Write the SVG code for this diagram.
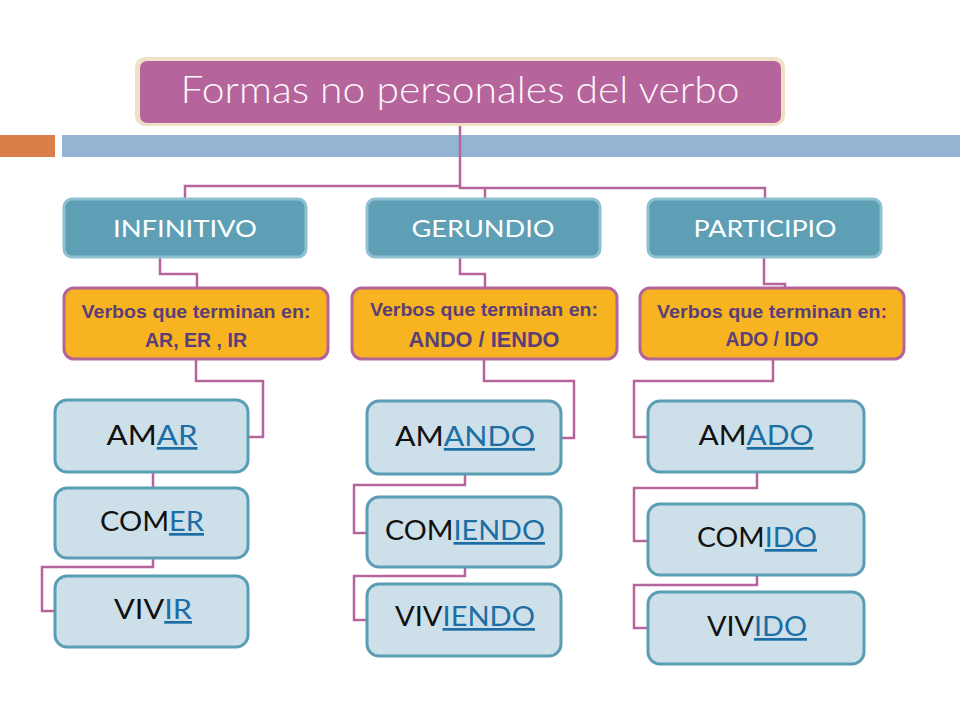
<svg xmlns="http://www.w3.org/2000/svg" width="960" height="720" viewBox="0 0 960 720">
<style>
.conn{fill:none;stroke:#b5649c;stroke-width:2.5}
.head rect{fill:#5e9fb5;stroke:#8fc1d1;stroke-width:3}
.head text{fill:#ffffff;font-family:"Lato","Open Sans",sans-serif;font-size:24px;font-weight:400;text-anchor:middle}
.cat rect{fill:#f8b420;stroke:#b5649c;stroke-width:3}
.cat text{fill:#5a3e78;font-family:"Liberation Sans",Arial,sans-serif;font-weight:bold;text-anchor:middle}
.word rect{fill:#cde0ea;stroke:#5b9eb4;stroke-width:3}
.word text{fill:#111111;font-family:"Lato","Open Sans",sans-serif;font-size:27px;font-weight:400;text-anchor:middle}
.suf{fill:#1c6ea4;text-decoration:underline}
</style>
<rect width="960" height="720" fill="#ffffff"/>
<rect x="0" y="135" width="55" height="22" fill="#d9804a"/>
<rect x="62" y="135" width="898" height="22" fill="#94b4d4"/>
<g id="connectors">
<path class="conn" d="M460,124 V186 M185,199 V186 H460 V188 H765 V199 M485,188 V199"/>
<path class="conn" d="M160,257 V274 H197 V287"/>
<path class="conn" d="M460,257 V274 H485 V287"/>
<path class="conn" d="M764,257 V284 H785 V287"/>
<path class="conn" d="M196,360 V381 H263 V437 H249"/>
<path class="conn" d="M153,473 V487"/>
<path class="conn" d="M153,558 V567 H42 V611 H55"/>
<path class="conn" d="M484,360 V381 H574 V438 H562"/>
<path class="conn" d="M465,475 V485 H354 V533 H367"/>
<path class="conn" d="M465,567 V576 H354 V620 H367"/>
<path class="conn" d="M773,360 V381 H634 V437 H647"/>
<path class="conn" d="M757,473 V488 H634 V541 H647"/>
<path class="conn" d="M757,576 V585 H634 V628 H647"/>
</g>
<g id="title">
<rect x="135" y="57" width="650" height="69" rx="10" fill="#eee1c6"/>
<rect x="140" y="61" width="641" height="62" rx="7" fill="#b5649c"/>
<text x="460" y="103" text-anchor="middle" font-family="Lato,'Open Sans',sans-serif" font-size="37" font-weight="300" fill="#fdf6fa" textLength="559" lengthAdjust="spacingAndGlyphs">Formas no personales del verbo</text>
</g>
<g id="infinitivo" class="head">
<rect x="64" y="199" width="242" height="58" rx="8"/>
<text x="185" y="237" textLength="144" lengthAdjust="spacingAndGlyphs">INFINITIVO</text>
</g>
<g id="gerundio" class="head">
<rect x="367" y="199" width="233" height="58" rx="8"/>
<text x="483" y="237" textLength="143" lengthAdjust="spacingAndGlyphs">GERUNDIO</text>
</g>
<g id="participio" class="head">
<rect x="648" y="199" width="233" height="58" rx="8"/>
<text x="765" y="237" textLength="143" lengthAdjust="spacingAndGlyphs">PARTICIPIO</text>
</g>
<g id="cat-inf" class="cat">
<rect x="64" y="288" width="264" height="71" rx="10"/>
<text x="196" y="318" font-size="19" textLength="229" lengthAdjust="spacingAndGlyphs">Verbos que terminan en:</text>
<text x="196" y="347" font-size="20" textLength="102" lengthAdjust="spacingAndGlyphs">AR, ER , IR</text>
</g>
<g id="cat-ger" class="cat">
<rect x="352" y="288" width="265" height="71" rx="10"/>
<text x="484" y="316" font-size="19" textLength="228" lengthAdjust="spacingAndGlyphs">Verbos que terminan en:</text>
<text x="484" y="347" font-size="22" textLength="151" lengthAdjust="spacingAndGlyphs">ANDO / IENDO</text>
</g>
<g id="cat-par" class="cat">
<rect x="640" y="288" width="264" height="71" rx="10"/>
<text x="772" y="318" font-size="19" textLength="230" lengthAdjust="spacingAndGlyphs">Verbos que terminan en:</text>
<text x="772" y="346" font-size="20" textLength="93" lengthAdjust="spacingAndGlyphs">ADO / IDO</text>
</g>
<g id="amar" class="word">
<rect x="55" y="400" width="193" height="72" rx="12"/>
<text x="152" y="445" textLength="91" lengthAdjust="spacingAndGlyphs">AM<tspan class="suf">AR</tspan></text>
</g>
<g id="comer" class="word">
<rect x="55" y="488" width="193" height="70" rx="12"/>
<text x="152" y="531" textLength="104" lengthAdjust="spacingAndGlyphs">COM<tspan class="suf">ER</tspan></text>
</g>
<g id="vivir" class="word">
<rect x="55" y="576" width="193" height="71" rx="12"/>
<text x="153" y="619" textLength="78" lengthAdjust="spacingAndGlyphs">VIV<tspan class="suf">IR</tspan></text>
</g>
<g id="amando" class="word">
<rect x="367" y="401" width="194" height="73" rx="12"/>
<text x="465" y="446" textLength="140" lengthAdjust="spacingAndGlyphs">AM<tspan class="suf">ANDO</tspan></text>
</g>
<g id="comiendo" class="word">
<rect x="367" y="497" width="194" height="70" rx="12"/>
<text x="465" y="540" textLength="160" lengthAdjust="spacingAndGlyphs">COM<tspan class="suf">IENDO</tspan></text>
</g>
<g id="viviendo" class="word">
<rect x="367" y="584" width="194" height="72" rx="12"/>
<text x="465" y="626" textLength="140" lengthAdjust="spacingAndGlyphs">VIV<tspan class="suf">IENDO</tspan></text>
</g>
<g id="amado" class="word">
<rect x="648" y="401" width="216" height="71" rx="12"/>
<text x="756" y="445" textLength="115" lengthAdjust="spacingAndGlyphs">AM<tspan class="suf">ADO</tspan></text>
</g>
<g id="comido" class="word">
<rect x="648" y="504" width="216" height="71" rx="12"/>
<text x="757" y="547" textLength="120" lengthAdjust="spacingAndGlyphs">COM<tspan class="suf">IDO</tspan></text>
</g>
<g id="vivido" class="word">
<rect x="648" y="592" width="216" height="72" rx="12"/>
<text x="757" y="636" textLength="100" lengthAdjust="spacingAndGlyphs">VIV<tspan class="suf">IDO</tspan></text>
</g>
</svg>
